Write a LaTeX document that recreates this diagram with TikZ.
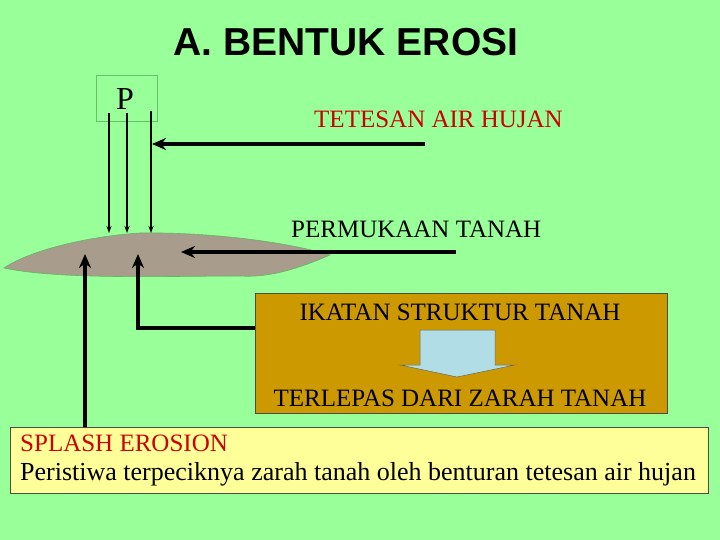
\documentclass[tikz,border=0pt]{standalone}
\usepackage{fontspec}
\setmainfont{Liberation Serif}
\newfontfamily\sansf{Liberation Sans}
\usetikzlibrary{arrows.meta}
\definecolor{bg}{HTML}{99FF99}
\definecolor{soil}{HTML}{A89C8C}
\definecolor{ochre}{HTML}{CC9900}
\definecolor{lyel}{HTML}{FFFF99}
\definecolor{lblue}{HTML}{B0DDE6}
\definecolor{tred}{HTML}{CC0000}
\begin{document}
\begin{tikzpicture}[x=1pt,y=-1pt,
  thin arr/.style={-{Stealth[length=7pt,width=5pt]},line width=1.1pt},
  thick arr/.style={-{Stealth[length=14pt,width=12pt]},line width=4.5pt},
  lbl/.style={font=\fontsize{25}{27}\selectfont,inner sep=0pt}]
\fill[bg] (0,0) rectangle (720,540);
\node[font=\sansf\bfseries\fontsize{39}{40}\selectfont] (title) at (346,42) {A. BENTUK EROSI};
\node[draw=green!60!black!60,line width=0.6pt,minimum width=61pt,minimum height=46pt] (pbox) at (126.5,98) {};
\node[lbl,font=\fontsize{32}{34}\selectfont] (p) at (125,99) {P};
\fill[soil,draw=green!50!black!60,line width=0.6pt] (4,268) .. controls (30,250) and (90,236) .. (140,233)
  .. controls (200,232) and (280,240) .. (330,255) .. controls (300,268) and (270,278) .. (240,276)
  .. controls (170,276) and (60,280) .. (4,268) -- cycle;
\coordinate (s1) at (109,233); \coordinate (s2) at (127,233); \coordinate (s3) at (151,233);
\coordinate (p1) at (109,113); \coordinate (p2) at (127,113); \coordinate (p3) at (151,111);
\draw[thin arr] (p1) -- (s1);
\draw[thin arr] (p2) -- (s2);
\draw[thin arr] (p3) -- (s3);
\node[lbl,text=tred,anchor=west] (tetes) at (314,119) {TETESAN AIR HUJAN};
\coordinate (t1) at (425,144); \coordinate (t2) at (152,144);
\draw[thick arr] (t1) -- (t2);
\node[lbl,anchor=west] (perm) at (291,229) {PERMUKAAN TANAH};
\coordinate (m1) at (456,252); \coordinate (m2) at (181,252);
\draw[thick arr] (m1) -- (m2);
\node[fill=ochre,draw=black!70,line width=0.6pt,minimum width=412pt,minimum height=120pt,inner sep=0pt] (box) at (461,353) {};
\node[lbl] (ikatan) at (460,312) {IKATAN STRUKTUR TANAH};
\node[lbl] (terl) at (460,398) {TERLEPAS DARI ZARAH TANAH};
\filldraw[fill=lblue,draw=black!60,line width=0.5pt] (420,330) -- (495,330) -- (495,365) -- (515,365)
  -- (457,377) -- (400,365) -- (420,365) -- cycle;
\node[fill=lyel,draw=black!70,line width=0.6pt,minimum width=698pt,minimum height=66pt,inner sep=0pt] (bot) at (359,460) {};
\node[lbl,text=tred,anchor=west] (splash) at (20,443) {SPLASH EROSION};
\node[lbl,font=\fontsize{26}{28}\selectfont,anchor=west] (peri) at (20,474) {Peristiwa terpeciknya zarah tanah oleh benturan tetesan air hujan};
\coordinate (u1) at (138,254); \coordinate (u2) at (85,254);
\draw[thick arr] (box.west |- 0,328) -| (u1);
\draw[thick arr] (bot.north -| u2) -- (u2);
\end{tikzpicture}
\end{document}
